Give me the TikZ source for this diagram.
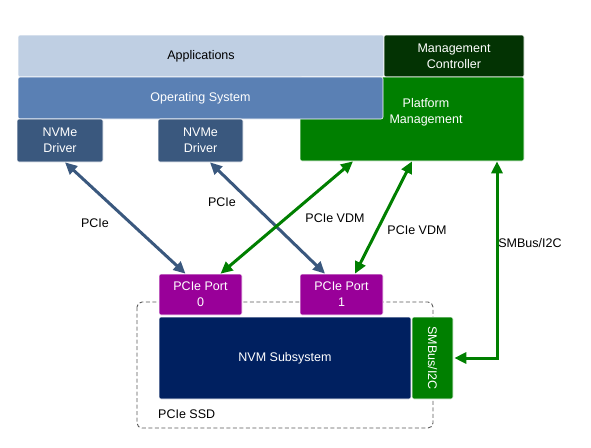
\documentclass[tikz,border=0pt]{standalone}
\usepackage{fontspec}
\setmainfont{Liberation Sans}
\usepackage{tikz}
\usetikzlibrary{arrows.meta}

\definecolor{appblue}{HTML}{BFCFE3}
\definecolor{osblue}{HTML}{5A80B4}
\definecolor{drvblue}{HTML}{3A587E}
\definecolor{mcgreen}{HTML}{033303}
\definecolor{pmgreen}{HTML}{007F00}
\definecolor{portpurple}{HTML}{990099}
\definecolor{nvmnavy}{HTML}{002060}

\begin{document}
\begin{tikzpicture}[x=1pt, y=-1pt,
   box/.style={draw=white, line width=0.6pt, rounded corners=2pt, inner sep=0pt,
      align=center, text=white, font=\fontsize{12.5}{16}\selectfont},
   lbl/.style={font=\fontsize{12.5}{16}\selectfont, inner sep=0pt},
   blink/.style={draw=drvblue, line width=3pt,
      {Triangle[length=12pt,width=11pt]}-{Triangle[length=12pt,width=11pt]}},
   glink/.style={draw=pmgreen, line width=3pt,
      {Triangle[length=12pt,width=11pt]}-{Triangle[length=12pt,width=11pt]}}]

   \useasboundingbox (0,0) rectangle (591,447);

   \draw[black!65, dash pattern=on 4pt off 2.5pt, line width=0.9pt, rounded corners=5pt] (137,302) rectangle (433,428);
   \node[lbl, anchor=west] (ssd) at (158,414) {PCIe SSD};

   \node[box, fill=appblue, text=black, minimum width=366, minimum height=42] (apps) at (201,56) {Applications};
   \node[box, fill=mcgreen, minimum width=140, minimum height=42] (mc) at (454,56) {Management\\Controller};
   \node[box, fill=pmgreen, minimum width=224, minimum height=84] (plat) at (412,119) {};
   \node[lbl, align=center, text=white] (platlbl) at ([xshift=14pt, yshift=7pt]plat.center) {Platform\\Management};
   \node[box, fill=osblue, minimum width=365, minimum height=42] (os) at (200.5,98) {Operating System};

   \node[box, fill=drvblue, minimum width=86, minimum height=43] (drv0) at (60,140.5) {NVMe\\Driver};
   \node[box, fill=drvblue, minimum width=85, minimum height=43] (drv1) at (200.5,140.5) {NVMe\\Driver};

   \node[box, fill=portpurple, minimum width=83, minimum height=41] (port0) at (200.5,294.5) {PCIe Port\\0};
   \node[box, fill=portpurple, minimum width=83, minimum height=41] (port1) at (341.5,294.5) {PCIe Port\\1};
   \node[box, fill=nvmnavy, minimum width=252, minimum height=82] (nvm) at (285,358) {NVM Subsystem};
   \node[box, fill=pmgreen, minimum width=41, minimum height=82] (smb) at (432.5,358) {\rotatebox{-90}{SMBus/I2C}};

   \draw[blink] ([xshift=5pt]drv0.south) -- ([xshift=-15pt]port0.north);
   \draw[blink] ([xshift=9.5pt]drv1.south) -- ([xshift=-16.5pt]port1.north);
   \draw[glink] ([xshift=-59pt]plat.south) -- ([xshift=20pt]port0.north);
   \draw[glink] (plat.south) -- ([xshift=13.5pt]port1.north);
   \draw[glink] ([xshift=85pt]plat.south) |- ([xshift=1pt]smb.east);

   \node[lbl] (pcie0) at (95,223) {PCIe};
   \node[lbl] (pcie1) at (222,202) {PCIe};
   \node[lbl] (vdm0) at (335,218) {PCIe VDM};
   \node[lbl] (vdm1) at (417,230) {PCIe VDM};
   \node[lbl] (smbl) at (530,243) {SMBus/I2C};

\end{tikzpicture}
\end{document}
